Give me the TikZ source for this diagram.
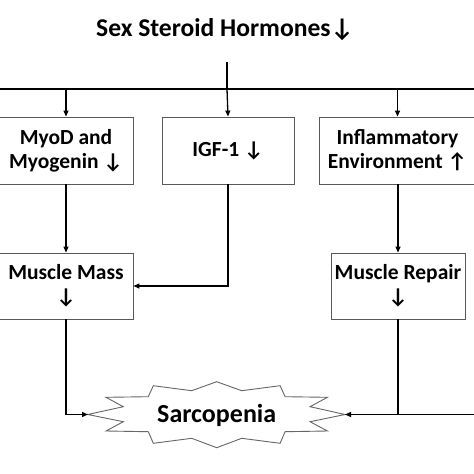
\documentclass[tikz,border=0pt]{standalone}
\usepackage{fontspec}
\setmainfont{Carlito}
\usetikzlibrary{arrows.meta}
\begin{document}
\begin{tikzpicture}[x=1pt,y=-1pt,
  conn/.style={line width=1.3pt,draw=black},
  arr/.style={conn,-{Triangle[length=6pt,width=5pt]}},
  boxa/.style={draw=black!65,line width=0.9pt,fill=white,inner sep=0pt,align=center,
     font=\bfseries\fontsize{21.5}{24}\selectfont},
  ttl/.style={font=\bfseries\fontsize{25.6}{28}\selectfont,inner sep=0pt},
  stxt/.style={font=\bfseries\fontsize{26}{28}\selectfont,inner sep=0pt}]
\useasboundingbox (0,0) rectangle (474,474);
\fill[white] (0,0) rectangle (474,474);
% title
\node[ttl] (title) at (225,30) {Sex Steroid Hormones↓};
\coordinate (ttop) at (227,62);
\coordinate (tjoin) at (227,89);
\coordinate (hl) at (-2,89);
\coordinate (hr) at (476,89);
% boxes
\node[boxa,minimum width=134pt,minimum height=67pt] (myo) at (66,150.5) {MyoD and\\Myogenin ↓};
\node[boxa,minimum width=132pt,minimum height=67pt] (igf) at (228,150.5) {IGF-1 ↓};
\node[boxa,minimum width=156pt,minimum height=67pt] (inf) at (397.5,150.5) {Inflammatory\\Environment ↑};
\node[boxa,minimum width=134pt,minimum height=66pt] (mm) at (66,286) {Muscle Mass\\↓};
\node[boxa,minimum width=134pt,minimum height=66pt] (mr) at (398,286) {Muscle Repair\\↓};
% star
\coordinate (sc) at (216.7,414.5);
\draw[draw=black!60,line width=0.9pt,fill=white,shift={(sc)}]
 (-129,0) -- (-93.4,-7.8) -- (-110.7,-17.2) -- (-68.4,-17.8) -- (-63.4,-28.8) -- (-25,-23.8) -- (0,-32.8)
 -- (25,-23.8) -- (63.4,-28.8) -- (68.4,-17.8) -- (110.7,-17.2) -- (93.4,-7.8) -- (128.3,0)
 -- (93.4,7.2) -- (110.7,16.5) -- (68.4,17.2) -- (63.4,28.8) -- (25,23.8) -- (0,33.2)
 -- (-25,23.8) -- (-63.4,28.8) -- (-68.4,17.2) -- (-110.7,16.5) -- (-93.4,7.2) -- cycle;
\node[stxt] (sarc) at (216.7,415) {Sarcopenia};
\coordinate (sl) at (88,414.5);
\coordinate (sr) at (345,414.5);
\coordinate (rr) at (476,414.5);
% connectors
\draw[conn] (ttop) -- (tjoin);
\draw[conn] (hl) -- (hr);
\draw[arr] (hl -| myo.north) -- (myo.north);
\draw[arr] (tjoin) -- (igf.north);
\draw[arr] (hl -| inf.north) -- (inf.north);
\draw[arr] (myo.south) -- (mm.north);
\draw[arr] (igf.south) |- (mm.east);
\draw[arr] (inf.south -| mr.north) -- (mr.north);
\draw[arr] (mm.south) |- (sl);
\draw[conn] (mr.south) -- (mr.south |- rr);
\draw[arr] (rr) -- (sr);
\end{tikzpicture}
\end{document}
